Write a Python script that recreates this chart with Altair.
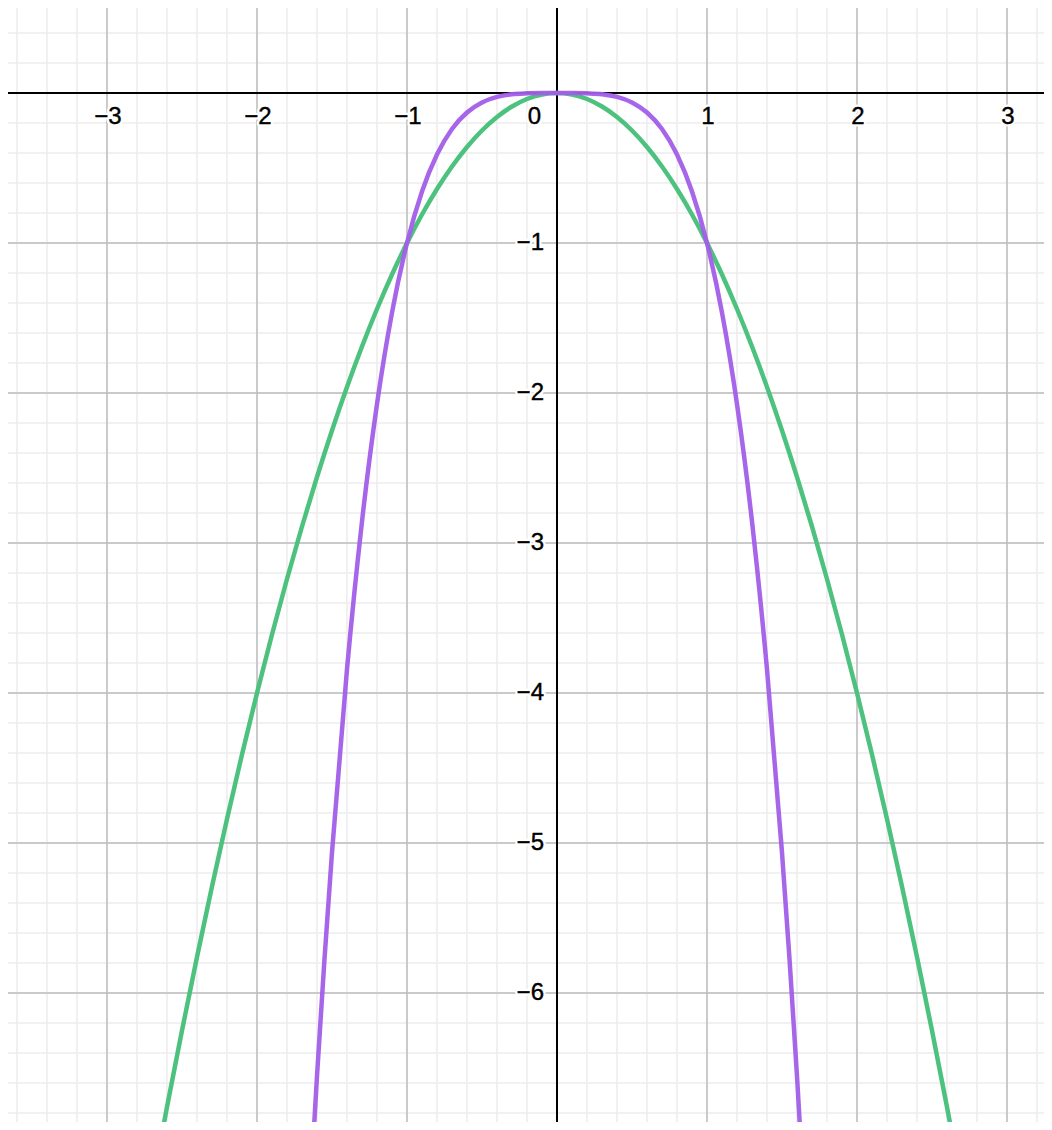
"""
Desmos-style plot of y = -x^2 (green) and y = -x^4 (purple).
"""
import numpy as np
import pandas as pd
import altair as alt

# Green curve, points
green_x = [-2.7, -2.6, -2.5, -2.4, -2.3, -2.2, -2.1, -2.0, -1.9, -1.8, -1.7, -1.6, -1.5, -1.4,
           -1.3, -1.2, -1.1, -1.0, -0.9, -0.8, -0.7, -0.6, -0.5, -0.4, -0.3, -0.2, -0.1, 0.0,
           0.1, 0.2, 0.3, 0.4, 0.5, 0.6, 0.7, 0.8, 0.9, 1.0, 1.1, 1.2, 1.3, 1.4,
           1.5, 1.6, 1.7, 1.8, 1.9, 2.0, 2.1, 2.2, 2.3, 2.4, 2.5, 2.6, 2.7]
green_y = [-7.29, -6.76, -6.25, -5.76, -5.29, -4.84, -4.41, -4.0, -3.61, -3.24, -2.89, -2.56, -2.25, -1.96,
           -1.69, -1.44, -1.21, -1.0, -0.81, -0.64, -0.49, -0.36, -0.25, -0.16, -0.09, -0.04, -0.01, 0.0,
           -0.01, -0.04, -0.09, -0.16, -0.25, -0.36, -0.49, -0.64, -0.81, -1.0, -1.21, -1.44, -1.69, -1.96,
           -2.25, -2.56, -2.89, -3.24, -3.61, -4.0, -4.41, -4.84, -5.29, -5.76, -6.25, -6.76, -7.29]

# Purple curve, points
purple_x = [-1.7, -1.65, -1.6, -1.55, -1.5, -1.4, -1.3, -1.2, -1.1, -1.0, -0.9, -0.8, -0.7, -0.6,
            -0.5, -0.4, -0.3, -0.2, -0.1, 0.0, 0.1, 0.2, 0.3, 0.4, 0.5, 0.6, 0.7, 0.8,
            0.9, 1.0, 1.1, 1.2, 1.3, 1.4, 1.5, 1.55, 1.6, 1.65, 1.7]
purple_y = [-8.352, -7.412, -6.554, -5.772, -5.063, -3.842, -2.856, -2.074, -1.464, -1.0, -0.656, -0.410,
            -0.240, -0.130, -0.063, -0.026, -0.008, -0.002, 0.0, 0.0, 0.0, -0.002, -0.008, -0.026,
            -0.063, -0.130, -0.240, -0.410, -0.656, -1.0, -1.464, -2.074, -2.856, -3.842, -5.063,
            -5.772, -6.554, -7.412, -8.352]

# Axis tick labels
x_ticks = [-3, -2, -1, 1, 2, 3]
x_labels = ["\u22123", "\u22122", "\u22121", "1", "2", "3"]
y_ticks = [-6, -5, -4, -3, -2, -1]
y_labels = ["\u22126", "\u22125", "\u22124", "\u22123", "\u22122", "\u22121"]

X_DOMAIN = [-3.66, 3.2467]
Y_DOMAIN = [-6.86, 0.5667]
W, H = 1036, 1114
FONT = "Liberation Sans"


def main():
    xs = alt.Scale(domain=X_DOMAIN, nice=False, zero=False)
    ys = alt.Scale(domain=Y_DOMAIN, nice=False, zero=False)

    minor_x = pd.DataFrame({'v': np.round(np.arange(-3.6, 3.25, 0.2), 2)})
    minor_y = pd.DataFrame({'v': np.round(np.arange(-6.8, 0.57, 0.2), 2)})
    major_x = pd.DataFrame({'v': [-3, -2, -1, 1, 2, 3]})
    major_y = pd.DataFrame({'v': [-6, -5, -4, -3, -2, -1]})

    def vrules(df, color, width):
        return alt.Chart(df).mark_rule(color=color, strokeWidth=width).encode(
            x=alt.X('v:Q', scale=xs, axis=None))

    def hrules(df, color, width):
        return alt.Chart(df).mark_rule(color=color, strokeWidth=width).encode(
            y=alt.Y('v:Q', scale=ys, axis=None))

    grid = (vrules(minor_x, '#ececec', 1.5) + hrules(minor_y, '#ececec', 1.5)
            + vrules(major_x, '#bdbdbd', 1.5) + hrules(major_y, '#bdbdbd', 1.5))

    axes = (vrules(pd.DataFrame({'v': [0]}), 'black', 2)
            + hrules(pd.DataFrame({'v': [0]}), 'black', 2))

    green = alt.Chart(pd.DataFrame({'x': green_x, 'y': green_y})).mark_line(
        color='#4dc27e', strokeWidth=4.5, interpolate='monotone', clip=True
    ).encode(x=alt.X('x:Q', scale=xs, axis=None), y=alt.Y('y:Q', scale=ys, axis=None), order='x:Q')

    purple = alt.Chart(pd.DataFrame({'x': purple_x, 'y': purple_y})).mark_line(
        color='#a25ee8', strokeWidth=4.5, interpolate='monotone', clip=True, opacity=0.95
    ).encode(x=alt.X('x:Q', scale=xs, axis=None), y=alt.Y('y:Q', scale=ys, axis=None), order='x:Q')

    # Tick labels with a white halo
    xl = pd.DataFrame({'x': x_ticks, 'y': 0, 'label': x_labels})
    yl = pd.DataFrame({'x': 0, 'y': y_ticks, 'label': y_labels})
    zl = pd.DataFrame({'x': [0], 'y': [0], 'label': ['0']})

    def labels(df, halo, **kw):
        style = dict(font=FONT, fontSize=24, baseline='middle', **kw)
        if halo:
            style.update(color='white', stroke='white', strokeWidth=5, strokeJoin='round')
        else:
            style.update(color='black', stroke='black', strokeWidth=0.4)
        return alt.Chart(df).mark_text(**style).encode(
            x=alt.X('x:Q', scale=xs, axis=None), y=alt.Y('y:Q', scale=ys, axis=None), text='label:N')

    text = alt.layer()
    for halo in (True, False):
        text += labels(xl, halo, align='center', dx=1, dy=24)
        text += labels(yl, halo, align='right', dx=-13, dy=0)
        text += labels(zl, halo, align='right', dx=-16, dy=24)

    chart = (grid + axes + green + purple + text).properties(
        width=W, height=H, padding=0, autosize=alt.AutoSizeParams(type='none')
    ).configure_view(stroke=None)

    chart.save("out.html", embed_options={"renderer": "svg", "actions": False})


if __name__ == "__main__":
    main()
